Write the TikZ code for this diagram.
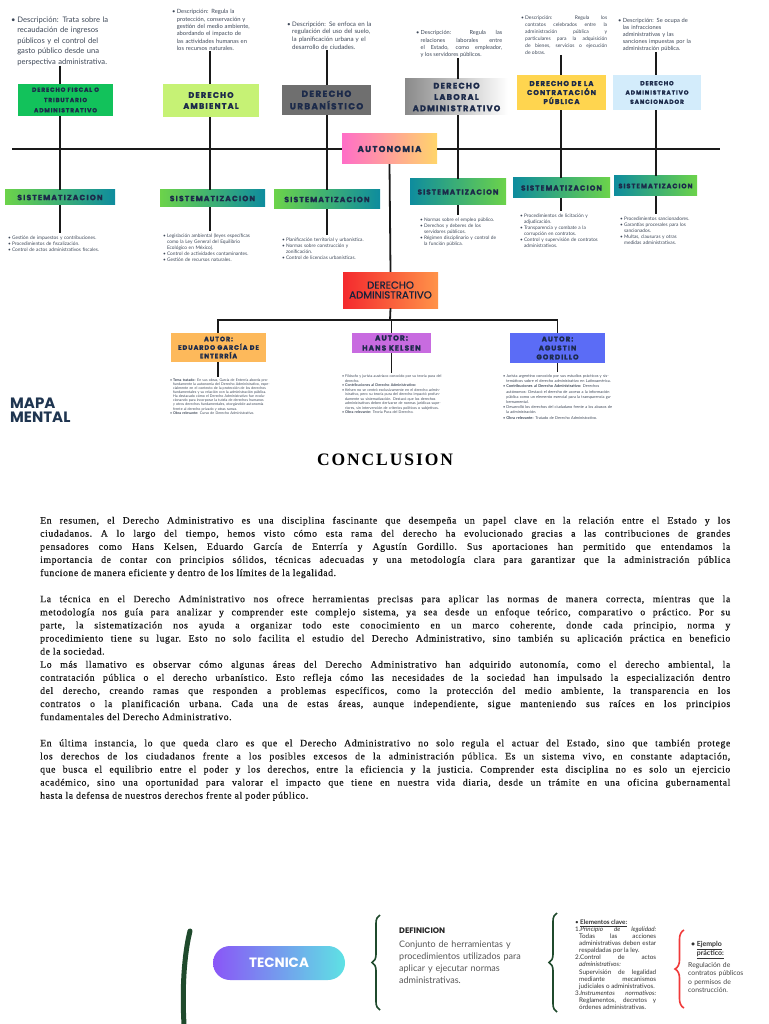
\documentclass[tikz,border=0pt]{standalone}
\usepackage{fontspec}
\usepackage{tikz}
\usetikzlibrary{calc,decorations.pathreplacing,positioning}
\newfontfamily\headfont{Poppins}[LetterSpace=15,BoldFeatures={FakeBold=1.5}]
\newfontfamily\popfont{Poppins}
\newfontfamily\popmed{Poppins}[FakeBold=0.8]
\newfontfamily\notefont{Lato}
\newfontfamily\bodyfont{Liberation Serif}[LetterSpace=5.5,FakeBold=0.6]
\newfontfamily\titlefont{Liberation Serif}[LetterSpace=11]
\newcommand{\fsz}[2]{\fontsize{#1}{#2}\selectfont}
\newcommand{\bul}{\par\hangindent=0.8em\hangafter=1\noindent\makebox[0.8em][l]{\textbullet}}
\definecolor{mmnavy}{HTML}{1C2A4A}
\definecolor{mmline}{HTML}{1A1A1A}
\definecolor{mmtext}{HTML}{3E4858}
\definecolor{mmfiscal}{HTML}{12C25B}
\definecolor{mmambiental}{HTML}{C6F275}
\definecolor{mmurbano}{HTML}{6F6F6F}
\definecolor{mmlaboral}{HTML}{8A8A8A}
\definecolor{mmcontrato}{HTML}{FFD54F}
\definecolor{mmsancion}{HTML}{D3ECFB}
\definecolor{mmsistgreen}{HTML}{6CD34A}
\definecolor{mmsistteal}{HTML}{0E8C9E}
\definecolor{mmpink}{HTML}{FF6EC7}
\definecolor{mmyellow}{HTML}{FFD56A}
\definecolor{mmred}{HTML}{F42A2E}
\definecolor{mmorange}{HTML}{FF9349}
\definecolor{mmgarcia}{HTML}{FDB95B}
\definecolor{mmkelsen}{HTML}{C86BE0}
\definecolor{mmgordillo}{HTML}{5B6CF6}
\definecolor{mmtitle}{HTML}{1F3550}
\definecolor{mmgreen}{HTML}{1F4A2C}
\definecolor{mmviolet}{HTML}{8A56F7}
\definecolor{mmcyan}{HTML}{5EE2E4}
\definecolor{mmgrey}{HTML}{555555}
\definecolor{mmbrace}{HTML}{F03A3A}
\tikzset{
  rama/.style={inner sep=1pt,align=center,text=mmnavy},
  sist/.style={rama,left color=mmsistgreen,right color=mmsistteal,
    font=\headfont\bfseries\fsz{7.6}{8}},
  sistr/.style={rama,left color=mmsistteal,right color=mmsistgreen,
    font=\headfont\bfseries\fsz{7.6}{8}},
  autor/.style={rama,font=\headfont\bfseries\fsz{6.4}{8.5}},
  link/.style={draw=mmline,line width=1.8pt},
  llave/.style={decorate,decoration={brace,amplitude=8pt},line width=1.6pt}
}
\begin{document}
\begin{tikzpicture}[x=1pt,y=-1pt,
    desc/.style={inner sep=0pt,text=mmtext,anchor=south west},
    lista/.style={inner sep=0pt,text=mmtext,align=left,anchor=north west,
      font=\notefont\fsz{4.8}{6.1}},
    nota/.style={inner sep=0pt,text=mmtext,align=left,anchor=north west}
  ]
  \useasboundingbox (0,0) rectangle (768,1024);
  % columnas
  \coordinate (c1) at (60,0);
  \coordinate (c2) at (210,0);
  \coordinate (c3) at (327,0);
  \coordinate (c4) at (458,0);
  \coordinate (c5) at (561,0);
  \coordinate (c6) at (656,0);
  % descripciones
  \node[desc,text width=104pt,align=left,font=\notefont\fsz{7.6}{10.5}] (d1) at (11,66)
    {\bul Descripción: Trata sobre la\newline recaudación de ingresos\newline públicos y el control del\newline gasto público desde una\newline perspectiva administrativa.\par};
  \node[desc,text width=92pt,align=left,font=\notefont\fsz{5.8}{7.4}] (d2) at (172,51)
    {\bul Descripción: Regula la\newline protección, conservación y\newline gestión del medio ambiente,\newline abordando el impacto de\newline las actividades humanas en\newline los recursos naturales.\par};
  \node[desc,text width=92pt,align=left,font=\notefont\fsz{6.2}{7.9}] (d3) at (287,50)
    {\bul Descripción: Se enfoca en la\newline regulación del uso del suelo,\newline la planificación urbana y el\newline desarrollo de ciudades.\par};
  \node[desc,text width=86pt,align=justify,font=\notefont\fsz{5.6}{7.4}] (d4) at (416,58)
    {\bul Descripción: Regula las\linebreak relaciones laborales entre\linebreak el Estado, como empleador,\linebreak y los servidores públicos.\par};
  \node[desc,text width=86pt,align=justify,font=\notefont\fsz{5}{7}] (d5) at (521,55)
    {\bul Descripción: Regula los\linebreak contratos celebrados entre la\linebreak administración pública y\linebreak particulares para la adquisición\linebreak de bienes, servicios o ejecución\linebreak de obras.\par};
  \node[desc,text width=82pt,align=left,font=\notefont\fsz{5.7}{7}] (d6) at (618,52)
    {\bul Descripción: Se ocupa de\newline las infracciones\newline administrativas y las\newline sanciones impuestas por la\newline administración pública.\par};
  % ramas
  \node[rama,fill=mmfiscal,minimum width=95pt,minimum height=32pt,
    font=\headfont\bfseries\fsz{5.9}{10.3}] (fiscal) at (65.5,100)
    {DERECHO FISCAL O\\TRIBUTARIO\\ADMINISTRATIVO};
  \node[rama,fill=mmambiental,minimum width=96pt,minimum height=33pt,
    font=\headfont\bfseries\fsz{8}{11}] (ambiental) at (211,100.5)
    {DERECHO\\AMBIENTAL};
  \node[rama,fill=mmurbano,minimum width=89pt,minimum height=30pt,
    font=\headfont\bfseries\fsz{8.8}{12.5}] (urbano) at (326.5,100)
    {DERECHO\\URBANÍSTICO};
  \node[rama,left color=mmlaboral,right color=white,minimum width=103pt,minimum height=36pt,
    font=\headfont\bfseries\fsz{8.2}{11.3}] (laboral) at (456.5,97)
    {DERECHO\\LABORAL\\ADMINISTRATIVO};
  \node[rama,fill=mmcontrato,minimum width=89pt,minimum height=35pt,
    font=\headfont\bfseries\fsz{7}{9}] (contrato) at (561.5,92.5)
    {DERECHO DE LA\\CONTRATACIÓN\\PÚBLICA};
  \node[rama,fill=mmsancion,minimum width=88pt,minimum height=35pt,
    font=\headfont\bfseries\fsz{5.9}{9.3}] (sancion) at (657,92.5)
    {DERECHO\\ADMINISTRATIVO\\SANCIONADOR};
  % sistematizacion
  \node[sist,minimum width=110pt,minimum height=15pt] (s1) at (60,197.5) {SISTEMATIZACION};
  \node[sist,minimum width=105pt,minimum height=17pt] (s2) at (212.5,198.5) {SISTEMATIZACION};
  \node[sist,minimum width=106pt,minimum height=19pt] (s3) at (327,199.5) {SISTEMATIZACION};
  \node[sistr,minimum width=96pt,minimum height=26pt,font=\headfont\bfseries\fsz{7.2}{8}] (s4) at (458,192) {SISTEMATIZACION};
  \node[sistr,minimum width=97pt,minimum height=20pt,font=\headfont\bfseries\fsz{7.2}{8}] (s5) at (561.5,188) {SISTEMATIZACION};
  \node[sistr,minimum width=83pt,minimum height=20pt,font=\headfont\bfseries\fsz{6.6}{8}] (s6) at (655.5,186) {SISTEMATIZACION};
  % listas
  \node[lista,text width=100pt] (l1) at (8,233)
    {\bul Gestión de impuestos y contribuciones.\bul Procedimientos de fiscalización.\bul Control de actos administrativos fiscales.\par};
  \node[lista,text width=100pt] (l2) at (163,231)
    {\bul Legislación ambiental (leyes específicas\newline como la Ley General del Equilibrio\newline Ecológico en México).\bul Control de actividades contaminantes.\bul Gestión de recursos naturales.\par};
  \node[lista,text width=95pt] (l3) at (282,235)
    {\bul Planificación territorial y urbanística.\bul Normas sobre construcción y\newline zonificación.\bul Control de licencias urbanísticas.\par};
  \node[lista,text width=90pt] (l4) at (420,215)
    {\bul Normas sobre el empleo público.\bul Derechos y deberes de los\newline servidores públicos.\bul Régimen disciplinario y control de\newline la función pública.\par};
  \node[lista,text width=90pt] (l5) at (520,211)
    {\bul Procedimientos de licitación y\newline adjudicación.\bul Transparencia y combate a la\newline corrupción en contratos.\bul Control y supervisión de contratos\newline administrativos.\par};
  \node[lista,text width=80pt] (l6) at (620,214)
    {\bul Procedimientos sancionadores.\bul Garantías procesales para los\newline sancionados.\bul Multas, clausuras y otras\newline medidas administrativas.\par};
  % centro
  \node[rama,left color=mmpink,right color=mmyellow,minimum width=95pt,minimum height=30pt,
    font=\headfont\bfseries\fsz{8.5}{9}] (auto) at (389.5,149) {AUTONOMIA};
  \node[rama,left color=mmred,right color=mmorange,minimum width=95pt,minimum height=36pt,
    text=mmnavy!80!black,font=\popmed\fsz{10.2}{9.8}] (derecho) at (390.5,290) {DERECHO\\ADMINISTRATIVO};
  \coordinate (hl) at (12,149);
  \coordinate (hr) at (720,149);
  \draw[link] (hl) -- (auto.west);
  \draw[link] (auto.east) -- (hr);
  \draw[link] (c1 |- d1.south) -- (c1 |- fiscal.north);
  \draw[link] (c1 |- fiscal.south) -- (c1 |- s1.north);
  \draw[link] (c1 |- s1.south) -- (c1 |- l1.north);
  \draw[link] (c2 |- d2.south) -- (c2 |- ambiental.north);
  \draw[link] (c2 |- ambiental.south) -- (c2 |- s2.north);
  \draw[link] (c2 |- s2.south) -- (c2 |- l2.north);
  \draw[link] (c3 |- d3.south) -- (c3 |- urbano.north);
  \draw[link] (c3 |- urbano.south) -- (c3 |- s3.north);
  \draw[link] (c3 |- s3.south) -- (c3 |- l3.north);
  \draw[link] (c4 |- d4.south) -- (c4 |- laboral.north);
  \draw[link] (c4 |- laboral.south) -- (c4 |- s4.north);
  \draw[link] (c4 |- s4.south) -- (c4 |- l4.north);
  \draw[link] (c5 |- d5.south) -- (c5 |- contrato.north);
  \draw[link] (c5 |- contrato.south) -- (c5 |- s5.north);
  \draw[link] (c5 |- s5.south) -- (c5 |- l5.north);
  \draw[link] (c6 |- d6.south) -- (c6 |- sancion.north);
  \draw[link] (c6 |- sancion.south) -- (c6 |- s6.north);
  \draw[link] (c6 |- s6.south) -- (c6 |- l6.north);
  \draw[link] (auto.south) -- (derecho.north);
  % autores
  \node[autor,fill=mmgarcia,minimum width=95pt,minimum height=29pt] (garcia) at (218.5,347.5)
    {AUTOR:\\EDUARDO GARCÍA DE\\ENTERRÍA};
  \node[autor,fill=mmkelsen,minimum width=79pt,minimum height=20pt,
    font=\headfont\bfseries\fsz{7.3}{10}] (kelsen) at (391.5,343) {AUTOR:\\HANS KELSEN};
  \node[autor,fill=mmgordillo,minimum width=95pt,minimum height=30pt,
    font=\headfont\bfseries\fsz{7}{9}] (gordillo) at (557.5,348) {AUTOR:\\AGUSTIN\\GORDILLO};
  \coordinate (bus) at (390,320);
  \draw[link] (derecho.south) -- (bus);
  \draw[link] (garcia.north -| 218,0) |- (bus) -| (gordillo.north);
  \draw[link] (kelsen.north) -- (kelsen.north |- bus);
  \node[nota,text width=100pt,font=\notefont\fsz{3.6}{4.1}] (g1) at (170,377)
    {\bul\textbf{Tema tratado:} En sus obras, García de Enterría aborda profundamente la autonomía del Derecho Administrativo, especialmente en el contexto de la protección de los derechos fundamentales y su relación con la administración pública. Ha destacado cómo el Derecho Administrativo fue evolucionando para incorporar la tutela de derechos humanos y otros derechos fundamentales, otorgándole autonomía frente al derecho privado y otras ramas.\bul\textbf{Obra relevante:} Curso de Derecho Administrativo.\par};
  \node[nota,text width=100pt,font=\notefont\fsz{3.7}{4.5}] (k1) at (342,373)
    {\bul Filósofo y jurista austríaco conocido por su teoría pura del derecho.\bul\textbf{Contribuciones al Derecho Administrativo:}\bul Kelsen no se centró exclusivamente en el derecho administrativo, pero su teoría pura del derecho impactó profundamente su sistematización. Destacó que los derechos administrativos deben derivarse de normas jurídicas superiores, sin intervención de criterios políticos o subjetivos.\bul\textbf{Obra relevante:} Teoría Pura del Derecho.\par};
  \node[nota,text width=112pt,font=\notefont\fsz{3.9}{5.2}] (o1) at (503,372)
    {\bul Jurista argentino conocido por sus estudios prácticos y sistemáticos sobre el derecho administrativo en Latinoamérica.\bul\textbf{Contribuciones al Derecho Administrativo:} Derechos autónomos: Destacó el derecho de acceso a la información pública como un elemento esencial para la transparencia gubernamental.\bul Desarrolló los derechos del ciudadano frente a los abusos de la administración.\bul\textbf{Obra relevante:} Tratado de Derecho Administrativo.\par};
  \draw[link] (garcia.south -| 218,0) -- (218,0 |- g1.north);
  \draw[link] (kelsen.south) -- (kelsen.south |- k1.north);
  \draw[link] (gordillo.south) -- (gordillo.south |- o1.north);
  % titulo y conclusion
  \node[anchor=west,inner sep=0pt,align=left,text=mmtitle,font=\popfont\bfseries\fsz{15}{14.5}] (mapa) at (10,410)
    {MAPA\\MENTAL};
  \node[inner sep=0pt,font=\titlefont\bfseries\fsz{17.5}{20}] (concl) at (385,460) {CONCLUSION};
  \node[anchor=north west,inner sep=0pt,text width=690pt,align=justify,text=black!90,font=\bodyfont\fsz{9.8}{13.1}\frenchspacing] (texto) at (40,516.5)
    {En resumen, el Derecho Administrativo es una disciplina fascinante que desempeña un papel clave en la relación entre el Estado y los\linebreak
    ciudadanos. A lo largo del tiempo, hemos visto cómo esta rama del derecho ha evolucionado gracias a las contribuciones de grandes\linebreak
    pensadores como Hans Kelsen, Eduardo García de Enterría y Agustín Gordillo. Sus aportaciones han permitido que entendamos la\linebreak
    importancia de contar con principios sólidos, técnicas adecuadas y una metodología clara para garantizar que la administración pública\linebreak
    funcione de manera eficiente y dentro de los límites de la legalidad.\par\vskip13.1pt
    La técnica en el Derecho Administrativo nos ofrece herramientas precisas para aplicar las normas de manera correcta, mientras que la\linebreak
    metodología nos guía para analizar y comprender este complejo sistema, ya sea desde un enfoque teórico, comparativo o práctico. Por su\linebreak
    parte, la sistematización nos ayuda a organizar todo este conocimiento en un marco coherente, donde cada principio, norma y\linebreak
    procedimiento tiene su lugar. Esto no solo facilita el estudio del Derecho Administrativo, sino también su aplicación práctica en beneficio\linebreak
    de la sociedad.\par
    Lo más llamativo es observar cómo algunas áreas del Derecho Administrativo han adquirido autonomía, como el derecho ambiental, la\linebreak
    contratación pública o el derecho urbanístico. Esto refleja cómo las necesidades de la sociedad han impulsado la especialización dentro\linebreak
    del derecho, creando ramas que responden a problemas específicos, como la protección del medio ambiente, la transparencia en los\linebreak
    contratos o la planificación urbana. Cada una de estas áreas, aunque independiente, sigue manteniendo sus raíces en los principios\linebreak
    fundamentales del Derecho Administrativo.\par\vskip13.1pt
    En última instancia, lo que queda claro es que el Derecho Administrativo no solo regula el actuar del Estado, sino que también protege\linebreak
    los derechos de los ciudadanos frente a los posibles excesos de la administración pública. Es un sistema vivo, en constante adaptación,\linebreak
    que busca el equilibrio entre el poder y los derechos, entre la eficiencia y la justicia. Comprender esta disciplina no es solo un ejercicio\linebreak
    académico, sino una oportunidad para valorar el impacto que tiene en nuestra vida diaria, desde un trámite en una oficina gubernamental\linebreak
    hasta la defensa de nuestros derechos frente al poder público.};
  % tecnica
  \draw[mmgreen,line width=5pt,line cap=round] (190,931) .. controls (184,955) and (182,990) .. (184,1024);
  \node[inner sep=0pt,left color=mmviolet,right color=mmcyan,rounded corners=17pt,
    minimum width=132pt,minimum height=34pt,text=white,font=\popfont\bfseries\fsz{13.5}{14}] (tecnica) at (279,963) {TECNICA};
  \coordinate (b1a) at (380,1010);
  \coordinate (b1b) at (380,915);
  \draw[llave,mmgreen] (b1a) -- (b1b);
  \node[nota,font=\popfont\bfseries\fsz{8}{9},text=black!85] (defi) at (399,928) {DEFINICION};
  \node[nota,below=7pt of defi.south west,anchor=north west,text width=130pt,text=mmgrey,
    font=\notefont\fsz{9}{11.7}] (defitexto)
    {Conjunto de herramientas y\\procedimientos utilizados para\\aplicar y ejecutar normas\\administrativas.};
  \coordinate (b2a) at (557,1012);
  \coordinate (b2b) at (557,913);
  \draw[llave,mmgreen] (b2a) -- (b2b);
  \node[nota,text width=81pt,align=justify,text=black!80,font=\notefont\fsz{6.3}{7.1}] (clave) at (575,917)
    {\hyphenpenalty=10000\exhyphenpenalty=10000
    \bul\underline{\textbf{Elementos clave:}}
    \par\hangindent=4pt\hangafter=1\noindent 1.\textit{Principio de legalidad:}\linebreak Todas las acciones administrativas deben estar respaldadas por la ley.
    \par\hangindent=4pt\hangafter=1\noindent 2.Control de actos\linebreak \textit{administrativos:}\newline Supervisión de legalidad mediante mecanismos judiciales o administrativos.
    \par\hangindent=4pt\hangafter=1\noindent 3.\textit{Instrumentos normativos:}\linebreak Reglamentos, decretos y órdenes administrativas.\par};
  \coordinate (b3a) at (684,1008);
  \coordinate (b3b) at (684,930);
  \draw[llave,mmbrace,decoration={amplitude=9pt}] (b3a) -- (b3b);
  \node[nota,text width=45pt,text=black!80,font=\notefont\bfseries\fsz{7}{8}] (ejemplo) at (691,938)
    {\bul\underline{Ejemplo}\newline\underline{práctico:}\par};
  \node[nota,below=3pt of ejemplo.south west,anchor=north west,xshift=-3pt,text width=62pt,text=black!75,
    font=\notefont\fsz{6.8}{8.5}] (ejtexto)
    {Regulación de\\contratos públicos\\o permisos de\\construcción.};
\end{tikzpicture}
\end{document}
